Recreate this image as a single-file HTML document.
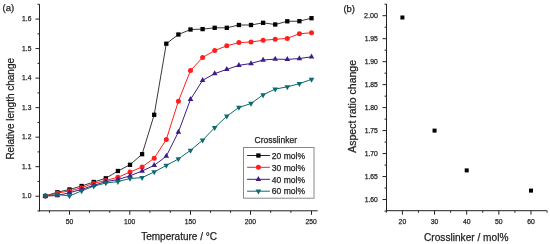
<!DOCTYPE html><html><head><meta charset="utf-8"><style>html,body{margin:0;padding:0;background:#fff;}svg{display:block;}</style></head><body>
<svg width="550" height="244" viewBox="0 0 550 244" font-family='"Liberation Sans", "DejaVu Sans", sans-serif'>
<style>text{stroke:#222;stroke-width:0.25px;}</style>
<rect width="550" height="244" fill="#fff"/>
<g stroke="#222" stroke-width="1" fill="none">
<line x1="39.5" y1="4.3" x2="39.5" y2="211.3"/>
<line x1="39.0" y1="210.8" x2="317.7" y2="210.8"/>
<line x1="37.50" y1="210.96" x2="39.5" y2="210.96"/>
<line x1="35.50" y1="196.20" x2="39.5" y2="196.20"/>
<line x1="37.50" y1="181.44" x2="39.5" y2="181.44"/>
<line x1="35.50" y1="166.68" x2="39.5" y2="166.68"/>
<line x1="37.50" y1="151.92" x2="39.5" y2="151.92"/>
<line x1="35.50" y1="137.16" x2="39.5" y2="137.16"/>
<line x1="37.50" y1="122.40" x2="39.5" y2="122.40"/>
<line x1="35.50" y1="107.64" x2="39.5" y2="107.64"/>
<line x1="37.50" y1="92.88" x2="39.5" y2="92.88"/>
<line x1="35.50" y1="78.12" x2="39.5" y2="78.12"/>
<line x1="37.50" y1="63.36" x2="39.5" y2="63.36"/>
<line x1="35.50" y1="48.60" x2="39.5" y2="48.60"/>
<line x1="37.50" y1="33.84" x2="39.5" y2="33.84"/>
<line x1="35.50" y1="19.08" x2="39.5" y2="19.08"/>
<line x1="37.50" y1="4.32" x2="39.5" y2="4.32"/>
<line x1="49.50" y1="210.8" x2="49.50" y2="212.8"/>
<line x1="69.50" y1="210.8" x2="69.50" y2="214.8"/>
<line x1="89.50" y1="210.8" x2="89.50" y2="212.8"/>
<line x1="109.80" y1="210.8" x2="109.80" y2="212.8"/>
<line x1="129.80" y1="210.8" x2="129.80" y2="214.8"/>
<line x1="149.90" y1="210.8" x2="149.90" y2="212.8"/>
<line x1="170.30" y1="210.8" x2="170.30" y2="212.8"/>
<line x1="190.50" y1="210.8" x2="190.50" y2="214.8"/>
<line x1="210.50" y1="210.8" x2="210.50" y2="212.8"/>
<line x1="230.60" y1="210.8" x2="230.60" y2="212.8"/>
<line x1="250.50" y1="210.8" x2="250.50" y2="214.8"/>
<line x1="270.70" y1="210.8" x2="270.70" y2="212.8"/>
<line x1="290.90" y1="210.8" x2="290.90" y2="212.8"/>
<line x1="311.50" y1="210.8" x2="311.50" y2="214.8"/>
</g>
<g font-size="7.5" fill="#222" text-anchor="end">
<text x="31.4" y="198.40" textLength="9.3" lengthAdjust="spacingAndGlyphs">1.0</text>
<text x="31.4" y="168.88" textLength="9.3" lengthAdjust="spacingAndGlyphs">1.1</text>
<text x="31.4" y="139.36" textLength="9.3" lengthAdjust="spacingAndGlyphs">1.2</text>
<text x="31.4" y="109.84" textLength="9.3" lengthAdjust="spacingAndGlyphs">1.3</text>
<text x="31.4" y="80.32" textLength="9.3" lengthAdjust="spacingAndGlyphs">1.4</text>
<text x="31.4" y="50.80" textLength="9.3" lengthAdjust="spacingAndGlyphs">1.5</text>
<text x="31.4" y="21.28" textLength="9.3" lengthAdjust="spacingAndGlyphs">1.6</text>
</g>
<g font-size="7.5" fill="#222" text-anchor="middle">
<text x="69.50" y="223.6" textLength="7.51" lengthAdjust="spacingAndGlyphs">50</text>
<text x="129.70" y="223.6" textLength="11.26" lengthAdjust="spacingAndGlyphs">100</text>
<text x="190.30" y="223.6" textLength="11.26" lengthAdjust="spacingAndGlyphs">150</text>
<text x="250.30" y="223.6" textLength="11.26" lengthAdjust="spacingAndGlyphs">200</text>
<text x="311.20" y="223.6" textLength="11.26" lengthAdjust="spacingAndGlyphs">250</text>
</g>
<text x="2.6" y="11.1" font-size="9.5" fill="#222">(a)</text>
<text transform="translate(13.8,159.6) rotate(-90)" font-size="10.3" fill="#222" textLength="101.6" lengthAdjust="spacingAndGlyphs">Relative length change</text>
<text x="141.2" y="239.6" font-size="10.6" fill="#222" textLength="75.8" lengthAdjust="spacingAndGlyphs">Temperature / °C</text>
<polyline points="45.30,196.00 57.40,192.20 69.50,189.50 81.60,186.00 93.70,182.00 105.80,178.30 117.90,171.00 130.00,164.80 142.10,154.20 154.20,114.80 166.30,43.70 178.40,34.50 190.50,29.50 202.60,29.10 214.70,27.80 226.80,27.80 238.90,25.00 251.00,25.00 263.10,22.80 275.20,24.50 287.30,21.30 299.40,21.20 311.50,18.20" fill="none" stroke="#222" stroke-width="0.9" stroke-linejoin="round"/>
<rect x="43.15" y="193.85" width="4.3" height="4.3" fill="#000"/>
<rect x="55.25" y="190.05" width="4.3" height="4.3" fill="#000"/>
<rect x="67.35" y="187.35" width="4.3" height="4.3" fill="#000"/>
<rect x="79.45" y="183.85" width="4.3" height="4.3" fill="#000"/>
<rect x="91.55" y="179.85" width="4.3" height="4.3" fill="#000"/>
<rect x="103.65" y="176.15" width="4.3" height="4.3" fill="#000"/>
<rect x="115.75" y="168.85" width="4.3" height="4.3" fill="#000"/>
<rect x="127.85" y="162.65" width="4.3" height="4.3" fill="#000"/>
<rect x="139.95" y="152.05" width="4.3" height="4.3" fill="#000"/>
<rect x="152.05" y="112.65" width="4.3" height="4.3" fill="#000"/>
<rect x="164.15" y="41.55" width="4.3" height="4.3" fill="#000"/>
<rect x="176.25" y="32.35" width="4.3" height="4.3" fill="#000"/>
<rect x="188.35" y="27.35" width="4.3" height="4.3" fill="#000"/>
<rect x="200.45" y="26.95" width="4.3" height="4.3" fill="#000"/>
<rect x="212.55" y="25.65" width="4.3" height="4.3" fill="#000"/>
<rect x="224.65" y="25.65" width="4.3" height="4.3" fill="#000"/>
<rect x="236.75" y="22.85" width="4.3" height="4.3" fill="#000"/>
<rect x="248.85" y="22.85" width="4.3" height="4.3" fill="#000"/>
<rect x="260.95" y="20.65" width="4.3" height="4.3" fill="#000"/>
<rect x="273.05" y="22.35" width="4.3" height="4.3" fill="#000"/>
<rect x="285.15" y="19.15" width="4.3" height="4.3" fill="#000"/>
<rect x="297.25" y="19.05" width="4.3" height="4.3" fill="#000"/>
<rect x="309.35" y="16.05" width="4.3" height="4.3" fill="#000"/>
<polyline points="45.30,196.00 57.40,193.00 69.50,191.00 81.60,187.70 93.70,183.40 105.80,180.40 117.90,177.30 130.00,172.10 142.10,166.90 154.20,158.20 166.30,139.50 178.40,101.20 190.50,70.60 202.60,57.50 214.70,50.50 226.80,45.80 238.90,42.60 251.00,42.00 263.10,40.30 275.20,39.30 287.30,38.40 299.40,33.70 311.50,32.80" fill="none" stroke="#ff1f1f" stroke-width="1.0" stroke-linejoin="round"/>
<circle cx="45.30" cy="196.00" r="2.5" fill="#ff1f1f"/>
<circle cx="57.40" cy="193.00" r="2.5" fill="#ff1f1f"/>
<circle cx="69.50" cy="191.00" r="2.5" fill="#ff1f1f"/>
<circle cx="81.60" cy="187.70" r="2.5" fill="#ff1f1f"/>
<circle cx="93.70" cy="183.40" r="2.5" fill="#ff1f1f"/>
<circle cx="105.80" cy="180.40" r="2.5" fill="#ff1f1f"/>
<circle cx="117.90" cy="177.30" r="2.5" fill="#ff1f1f"/>
<circle cx="130.00" cy="172.10" r="2.5" fill="#ff1f1f"/>
<circle cx="142.10" cy="166.90" r="2.5" fill="#ff1f1f"/>
<circle cx="154.20" cy="158.20" r="2.5" fill="#ff1f1f"/>
<circle cx="166.30" cy="139.50" r="2.5" fill="#ff1f1f"/>
<circle cx="178.40" cy="101.20" r="2.5" fill="#ff1f1f"/>
<circle cx="190.50" cy="70.60" r="2.5" fill="#ff1f1f"/>
<circle cx="202.60" cy="57.50" r="2.5" fill="#ff1f1f"/>
<circle cx="214.70" cy="50.50" r="2.5" fill="#ff1f1f"/>
<circle cx="226.80" cy="45.80" r="2.5" fill="#ff1f1f"/>
<circle cx="238.90" cy="42.60" r="2.5" fill="#ff1f1f"/>
<circle cx="251.00" cy="42.00" r="2.5" fill="#ff1f1f"/>
<circle cx="263.10" cy="40.30" r="2.5" fill="#ff1f1f"/>
<circle cx="275.20" cy="39.30" r="2.5" fill="#ff1f1f"/>
<circle cx="287.30" cy="38.40" r="2.5" fill="#ff1f1f"/>
<circle cx="299.40" cy="33.70" r="2.5" fill="#ff1f1f"/>
<circle cx="311.50" cy="32.80" r="2.5" fill="#ff1f1f"/>
<polyline points="45.30,196.00 57.40,195.60 69.50,192.70 81.60,189.40 93.70,185.40 105.80,181.60 117.90,179.60 130.00,175.80 142.10,171.00 154.20,165.40 166.30,156.20 178.40,132.00 190.50,99.40 202.60,80.30 214.70,73.60 226.80,69.40 238.90,65.30 251.00,63.50 263.10,60.00 275.20,59.10 287.30,59.40 299.40,58.50 311.50,56.80" fill="none" stroke="#3e1c88" stroke-width="1.0" stroke-linejoin="round"/>
<polygon points="42.50,197.67 48.10,197.67 45.30,192.67" fill="#3e1c88"/>
<polygon points="54.60,197.27 60.20,197.27 57.40,192.27" fill="#3e1c88"/>
<polygon points="66.70,194.37 72.30,194.37 69.50,189.37" fill="#3e1c88"/>
<polygon points="78.80,191.07 84.40,191.07 81.60,186.07" fill="#3e1c88"/>
<polygon points="90.90,187.07 96.50,187.07 93.70,182.07" fill="#3e1c88"/>
<polygon points="103.00,183.27 108.60,183.27 105.80,178.27" fill="#3e1c88"/>
<polygon points="115.10,181.27 120.70,181.27 117.90,176.27" fill="#3e1c88"/>
<polygon points="127.20,177.47 132.80,177.47 130.00,172.47" fill="#3e1c88"/>
<polygon points="139.30,172.67 144.90,172.67 142.10,167.67" fill="#3e1c88"/>
<polygon points="151.40,167.07 157.00,167.07 154.20,162.07" fill="#3e1c88"/>
<polygon points="163.50,157.87 169.10,157.87 166.30,152.87" fill="#3e1c88"/>
<polygon points="175.60,133.67 181.20,133.67 178.40,128.67" fill="#3e1c88"/>
<polygon points="187.70,101.07 193.30,101.07 190.50,96.07" fill="#3e1c88"/>
<polygon points="199.80,81.97 205.40,81.97 202.60,76.97" fill="#3e1c88"/>
<polygon points="211.90,75.27 217.50,75.27 214.70,70.27" fill="#3e1c88"/>
<polygon points="224.00,71.07 229.60,71.07 226.80,66.07" fill="#3e1c88"/>
<polygon points="236.10,66.97 241.70,66.97 238.90,61.97" fill="#3e1c88"/>
<polygon points="248.20,65.17 253.80,65.17 251.00,60.17" fill="#3e1c88"/>
<polygon points="260.30,61.67 265.90,61.67 263.10,56.67" fill="#3e1c88"/>
<polygon points="272.40,60.77 278.00,60.77 275.20,55.77" fill="#3e1c88"/>
<polygon points="284.50,61.07 290.10,61.07 287.30,56.07" fill="#3e1c88"/>
<polygon points="296.60,60.17 302.20,60.17 299.40,55.17" fill="#3e1c88"/>
<polygon points="308.70,58.47 314.30,58.47 311.50,53.47" fill="#3e1c88"/>
<polyline points="45.30,196.00 57.40,194.40 69.50,196.00 81.60,190.80 93.70,186.20 105.80,183.00 117.90,181.60 130.00,178.50 142.10,177.60 154.20,172.00 166.30,165.40 178.40,159.00 190.50,150.30 202.60,140.20 214.70,127.70 226.80,116.20 238.90,107.50 251.00,103.50 263.10,94.80 275.20,89.10 287.30,86.80 299.40,83.70 311.50,79.30" fill="none" stroke="#0b6b6e" stroke-width="1.0" stroke-linejoin="round"/>
<polygon points="42.50,194.33 48.10,194.33 45.30,199.33" fill="#0b6b6e"/>
<polygon points="54.60,192.73 60.20,192.73 57.40,197.73" fill="#0b6b6e"/>
<polygon points="66.70,194.33 72.30,194.33 69.50,199.33" fill="#0b6b6e"/>
<polygon points="78.80,189.13 84.40,189.13 81.60,194.13" fill="#0b6b6e"/>
<polygon points="90.90,184.53 96.50,184.53 93.70,189.53" fill="#0b6b6e"/>
<polygon points="103.00,181.33 108.60,181.33 105.80,186.33" fill="#0b6b6e"/>
<polygon points="115.10,179.93 120.70,179.93 117.90,184.93" fill="#0b6b6e"/>
<polygon points="127.20,176.83 132.80,176.83 130.00,181.83" fill="#0b6b6e"/>
<polygon points="139.30,175.93 144.90,175.93 142.10,180.93" fill="#0b6b6e"/>
<polygon points="151.40,170.33 157.00,170.33 154.20,175.33" fill="#0b6b6e"/>
<polygon points="163.50,163.73 169.10,163.73 166.30,168.73" fill="#0b6b6e"/>
<polygon points="175.60,157.33 181.20,157.33 178.40,162.33" fill="#0b6b6e"/>
<polygon points="187.70,148.63 193.30,148.63 190.50,153.63" fill="#0b6b6e"/>
<polygon points="199.80,138.53 205.40,138.53 202.60,143.53" fill="#0b6b6e"/>
<polygon points="211.90,126.03 217.50,126.03 214.70,131.03" fill="#0b6b6e"/>
<polygon points="224.00,114.53 229.60,114.53 226.80,119.53" fill="#0b6b6e"/>
<polygon points="236.10,105.83 241.70,105.83 238.90,110.83" fill="#0b6b6e"/>
<polygon points="248.20,101.83 253.80,101.83 251.00,106.83" fill="#0b6b6e"/>
<polygon points="260.30,93.13 265.90,93.13 263.10,98.13" fill="#0b6b6e"/>
<polygon points="272.40,87.43 278.00,87.43 275.20,92.43" fill="#0b6b6e"/>
<polygon points="284.50,85.13 290.10,85.13 287.30,90.13" fill="#0b6b6e"/>
<polygon points="296.60,82.03 302.20,82.03 299.40,87.03" fill="#0b6b6e"/>
<polygon points="308.70,77.63 314.30,77.63 311.50,82.63" fill="#0b6b6e"/>
<text x="254.5" y="142.7" font-size="8.9" fill="#222" textLength="42.5" lengthAdjust="spacingAndGlyphs">Crosslinker</text>
<rect x="243.5" y="147.5" width="70.5" height="50.7" fill="none" stroke="#888" stroke-width="1"/>
<line x1="247.1" y1="155.5" x2="269.9" y2="155.5" stroke="#222" stroke-width="1"/>
<rect x="256.25" y="153.35" width="4.3" height="4.3" fill="#000"/>
<text x="271.8" y="158.7" font-size="8.9" fill="#222" textLength="33.3" lengthAdjust="spacingAndGlyphs">20 mol%</text>
<line x1="247.1" y1="167.3" x2="269.9" y2="167.3" stroke="#ff1f1f" stroke-width="1"/>
<circle cx="258.40" cy="167.30" r="2.5" fill="#ff1f1f"/>
<text x="271.8" y="170.5" font-size="8.9" fill="#222" textLength="33.3" lengthAdjust="spacingAndGlyphs">30 mol%</text>
<line x1="247.1" y1="179.3" x2="269.9" y2="179.3" stroke="#3e1c88" stroke-width="1"/>
<polygon points="255.60,180.97 261.20,180.97 258.40,175.97" fill="#3e1c88"/>
<text x="271.8" y="182.5" font-size="8.9" fill="#222" textLength="33.3" lengthAdjust="spacingAndGlyphs">40 mol%</text>
<line x1="247.1" y1="191.2" x2="269.9" y2="191.2" stroke="#0b6b6e" stroke-width="1"/>
<polygon points="255.60,189.53 261.20,189.53 258.40,194.53" fill="#0b6b6e"/>
<text x="271.8" y="194.4" font-size="8.9" fill="#222" textLength="33.3" lengthAdjust="spacingAndGlyphs">60 mol%</text>
<g stroke="#222" stroke-width="1" fill="none">
<line x1="386.5" y1="4.0" x2="386.5" y2="211.2"/>
<line x1="386.0" y1="210.7" x2="546.8" y2="210.7"/>
<line x1="384.50" y1="211.03" x2="386.5" y2="211.03"/>
<line x1="382.50" y1="199.54" x2="386.5" y2="199.54"/>
<line x1="384.50" y1="188.05" x2="386.5" y2="188.05"/>
<line x1="382.50" y1="176.56" x2="386.5" y2="176.56"/>
<line x1="384.50" y1="165.07" x2="386.5" y2="165.07"/>
<line x1="382.50" y1="153.58" x2="386.5" y2="153.58"/>
<line x1="384.50" y1="142.09" x2="386.5" y2="142.09"/>
<line x1="382.50" y1="130.60" x2="386.5" y2="130.60"/>
<line x1="384.50" y1="119.11" x2="386.5" y2="119.11"/>
<line x1="382.50" y1="107.62" x2="386.5" y2="107.62"/>
<line x1="384.50" y1="96.13" x2="386.5" y2="96.13"/>
<line x1="382.50" y1="84.64" x2="386.5" y2="84.64"/>
<line x1="384.50" y1="73.15" x2="386.5" y2="73.15"/>
<line x1="382.50" y1="61.66" x2="386.5" y2="61.66"/>
<line x1="384.50" y1="50.17" x2="386.5" y2="50.17"/>
<line x1="382.50" y1="38.68" x2="386.5" y2="38.68"/>
<line x1="384.50" y1="27.19" x2="386.5" y2="27.19"/>
<line x1="382.50" y1="15.70" x2="386.5" y2="15.70"/>
<line x1="384.50" y1="4.21" x2="386.5" y2="4.21"/>
<line x1="386.32" y1="210.7" x2="386.32" y2="212.7"/>
<line x1="402.40" y1="210.7" x2="402.40" y2="214.7"/>
<line x1="418.47" y1="210.7" x2="418.47" y2="212.7"/>
<line x1="434.55" y1="210.7" x2="434.55" y2="214.7"/>
<line x1="450.62" y1="210.7" x2="450.62" y2="212.7"/>
<line x1="466.70" y1="210.7" x2="466.70" y2="214.7"/>
<line x1="482.77" y1="210.7" x2="482.77" y2="212.7"/>
<line x1="498.85" y1="210.7" x2="498.85" y2="214.7"/>
<line x1="514.92" y1="210.7" x2="514.92" y2="212.7"/>
<line x1="531.00" y1="210.7" x2="531.00" y2="214.7"/>
<line x1="547.07" y1="210.7" x2="547.07" y2="212.7"/>
</g>
<g font-size="7.5" fill="#222" text-anchor="end">
<text x="377.9" y="201.94" textLength="13.2" lengthAdjust="spacingAndGlyphs">1.60</text>
<text x="377.9" y="178.96" textLength="13.2" lengthAdjust="spacingAndGlyphs">1.65</text>
<text x="377.9" y="155.98" textLength="13.2" lengthAdjust="spacingAndGlyphs">1.70</text>
<text x="377.9" y="133.00" textLength="13.2" lengthAdjust="spacingAndGlyphs">1.75</text>
<text x="377.9" y="110.02" textLength="13.2" lengthAdjust="spacingAndGlyphs">1.80</text>
<text x="377.9" y="87.04" textLength="13.2" lengthAdjust="spacingAndGlyphs">1.85</text>
<text x="377.9" y="64.06" textLength="13.2" lengthAdjust="spacingAndGlyphs">1.90</text>
<text x="377.9" y="41.08" textLength="13.2" lengthAdjust="spacingAndGlyphs">1.95</text>
<text x="377.9" y="18.10" textLength="13.9" lengthAdjust="spacingAndGlyphs">2.00</text>
</g>
<g font-size="7.5" fill="#222" text-anchor="middle">
<text x="402.40" y="224.0" textLength="7.6" lengthAdjust="spacingAndGlyphs">20</text>
<text x="434.55" y="224.0" textLength="7.6" lengthAdjust="spacingAndGlyphs">30</text>
<text x="466.70" y="224.0" textLength="7.6" lengthAdjust="spacingAndGlyphs">40</text>
<text x="498.85" y="224.0" textLength="7.6" lengthAdjust="spacingAndGlyphs">50</text>
<text x="531.00" y="224.0" textLength="7.6" lengthAdjust="spacingAndGlyphs">60</text>
</g>
<text x="343.4" y="11.6" font-size="9.5" fill="#222">(b)</text>
<text transform="translate(355.6,152.8) rotate(-90)" font-size="10.3" fill="#222" textLength="92.8" lengthAdjust="spacingAndGlyphs">Aspect ratio change</text>
<text x="424" y="240.6" font-size="10.5" fill="#222" textLength="84.4" lengthAdjust="spacingAndGlyphs">Crosslinker / mol%</text>
<rect x="400.40" y="15.50" width="4.0" height="4.0" fill="#000"/>
<rect x="432.55" y="128.60" width="4.0" height="4.0" fill="#000"/>
<rect x="464.70" y="168.40" width="4.0" height="4.0" fill="#000"/>
<rect x="529.00" y="188.60" width="4.0" height="4.0" fill="#000"/>
</svg></body></html>
